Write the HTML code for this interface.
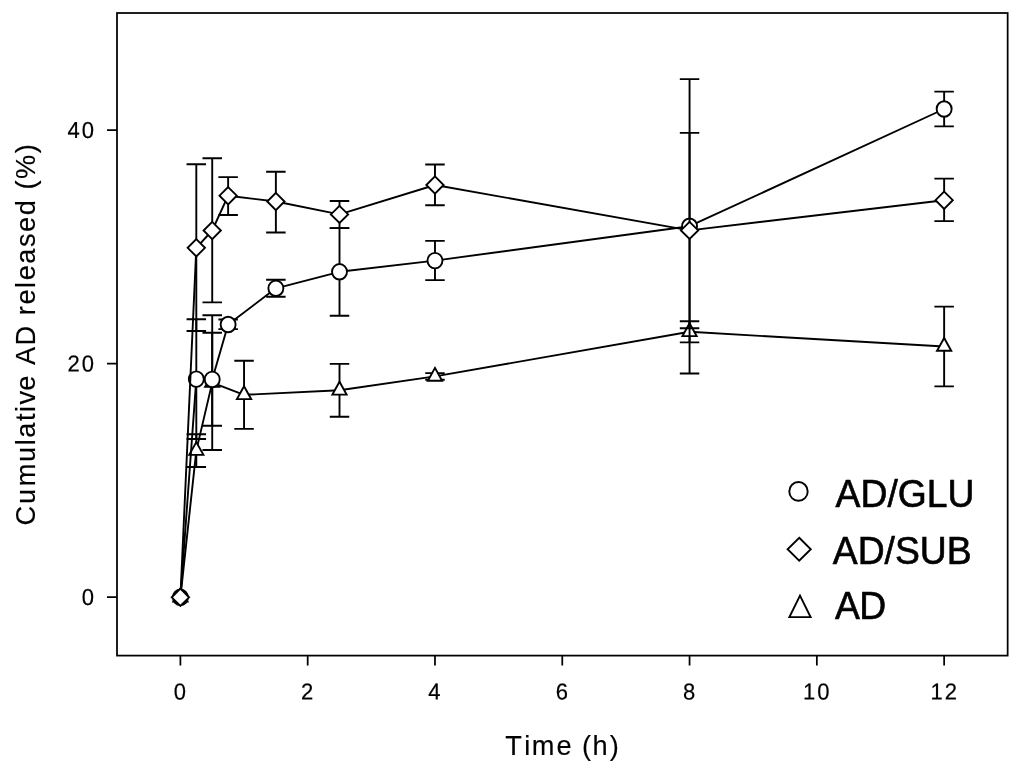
<!DOCTYPE html>
<html lang="en"><head><meta charset="utf-8"><title>Cumulative AD released</title>
<style>
html,body{margin:0;padding:0;background:#fff;}
body{width:1024px;height:776px;overflow:hidden;}
svg{display:block;}
text{font-family:"Liberation Sans",Arial,sans-serif;fill:#000;}
.tk text{font-size:22px;letter-spacing:2px;stroke:#000;stroke-width:0.2px;}
.ax{font-size:27.2px;stroke:#000;stroke-width:0.15px;}
.lg text{font-size:37.3px;stroke:#000;stroke-width:0.6px;}
.fr{fill:none;stroke:#000;stroke-width:1.75;}
.ln{fill:none;stroke:#000;stroke-width:1.9;stroke-linejoin:round;}
.eb{fill:none;stroke:#000;stroke-width:1.9;}
.mk *{fill:#fff;stroke:#000;stroke-width:1.9;stroke-linejoin:miter;}
</style></head><body>
<svg width="1024" height="776" viewBox="0 0 1024 776">
<rect width="1024" height="776" fill="#fff"/>
<rect class="fr" x="117" y="13" width="890.65" height="642.60"/>
<path class="fr" d="M180.4 655.6v10M307.69 655.6v10M434.98 655.6v10M562.27 655.6v10M689.56 655.6v10M816.85 655.6v10M944.14 655.6v10M117 597h-10M117 363.5h-10M117 130h-10"/>
<g class="tk"><text transform="translate(180.90 699.4) rotate(0.05) scale(1 1.05)" text-anchor="middle">0</text><text transform="translate(308.19 699.4) rotate(0.05) scale(1 1.05)" text-anchor="middle">2</text><text transform="translate(435.48 699.4) rotate(0.05) scale(1 1.05)" text-anchor="middle">4</text><text transform="translate(562.77 699.4) rotate(0.05) scale(1 1.05)" text-anchor="middle">6</text><text transform="translate(690.06 699.4) rotate(0.05) scale(1 1.05)" text-anchor="middle">8</text><text transform="translate(817.35 699.4) rotate(0.05) scale(1 1.05)" text-anchor="middle">10</text><text transform="translate(944.64 699.4) rotate(0.05) scale(1 1.05)" text-anchor="middle">12</text><text transform="translate(95.9 605.0) rotate(0.05) scale(1 1.05)" text-anchor="end">0</text><text transform="translate(95.9 371.5) rotate(0.05) scale(1 1.05)" text-anchor="end">20</text><text transform="translate(95.9 138.0) rotate(0.05) scale(1 1.05)" text-anchor="end">40</text></g>
<text class="ax" x="505.2" y="754.8" dx="0 1.5 -0.5 0.3 0 -1 -0.5 0.3" style="letter-spacing:1.9px">Time (h)</text>
<text class="ax" transform="translate(34.8 525.5) rotate(-90)" dx="0 0.3 1.2 0 0 0 0 0 0 -1.5 1.5" style="letter-spacing:1.53px">Cumulative AD released (%)</text>
<path class="ln" d="M180.4 597.3L196.31 450.6L212.22 382.6L244.05 394.8L339.51 390.3L434.98 376.4L689.56 331.8L944.14 346.5"/>
<path class="eb" d="M196.31 434.3V467.0M186.56 434.3H206.06M186.56 467.0H206.06M212.22 315.2V450.0M202.47 315.2H221.97M202.47 450.0H221.97M244.05 360.8V428.9M234.30 360.8H253.80M234.30 428.9H253.80M339.51 363.9V416.7M329.76 363.9H349.26M329.76 416.7H349.26M434.98 373.1V379.8M425.23 373.1H444.73M425.23 379.8H444.73M689.56 321.3V342.4M679.81 321.3H699.31M679.81 342.4H699.31M944.14 306.6V386.4M934.39 306.6H953.89M934.39 386.4H953.89"/>
<g class="mk"><path d="M180.4 588.80L187.50 601.60L173.30 601.60Z"/><path d="M196.31 442.10L203.41 454.90L189.21 454.90Z"/><path d="M212.22 374.10L219.32 386.90L205.12 386.90Z"/><path d="M244.05 386.30L251.15 399.10L236.95 399.10Z"/><path d="M339.51 381.80L346.61 394.60L332.41 394.60Z"/><path d="M434.98 367.90L442.08 380.70L427.88 380.70Z"/><path d="M689.56 323.30L696.66 336.10L682.46 336.10Z"/><path d="M944.14 338.00L951.24 350.80L937.04 350.80Z"/></g>
<path class="ln" d="M180.4 597.3L196.31 379.1L212.22 379.4L228.13 324.5L275.87 288.3L339.51 271.8L434.98 260.6L689.56 226.2L944.14 109.0"/>
<path class="eb" d="M196.31 319.2V439.0M186.56 319.2H206.06M186.56 439.0H206.06M212.22 332.7V425.8M202.47 332.7H221.97M202.47 425.8H221.97M228.13 319.5V329.1M218.38 319.5H237.88M218.38 329.1H237.88M275.87 279.8V296.8M266.12 279.8H285.62M266.12 296.8H285.62M339.51 228.1V315.8M329.76 228.1H349.26M329.76 315.8H349.26M434.98 240.9V280.1M425.23 240.9H444.73M425.23 280.1H444.73M689.56 79.1V373.5M679.81 79.1H699.31M679.81 373.5H699.31M944.14 91.6V126.4M934.39 91.6H953.89M934.39 126.4H953.89"/>
<g class="mk"><ellipse cx="180.4" cy="597.3" rx="7.50" ry="7.75"/><ellipse cx="196.31" cy="379.1" rx="7.50" ry="7.75"/><ellipse cx="212.22" cy="379.4" rx="7.50" ry="7.75"/><ellipse cx="228.13" cy="324.5" rx="7.50" ry="7.75"/><ellipse cx="275.87" cy="288.3" rx="7.50" ry="7.75"/><ellipse cx="339.51" cy="271.8" rx="7.50" ry="7.75"/><ellipse cx="434.98" cy="260.6" rx="7.50" ry="7.75"/><ellipse cx="689.56" cy="226.2" rx="7.50" ry="7.75"/><ellipse cx="944.14" cy="109.0" rx="7.50" ry="7.75"/></g>
<path class="ln" d="M180.4 597.3L196.31 247.8L212.22 230.5L228.13 195.7L275.87 201.5L339.51 214.4L434.98 185.0L689.56 230.4L944.14 200.2"/>
<path class="eb" d="M196.31 164.3V331.0M186.56 164.3H206.06M186.56 331.0H206.06M212.22 158.2V302.4M202.47 158.2H221.97M202.47 302.4H221.97M228.13 177.1V215.0M218.38 177.1H237.88M218.38 215.0H237.88M275.87 171.7V232.5M266.12 171.7H285.62M266.12 232.5H285.62M339.51 201.0V228.1M329.76 201.0H349.26M329.76 228.1H349.26M434.98 164.5V205.3M425.23 164.5H444.73M425.23 205.3H444.73M689.56 132.9V328.2M679.81 132.9H699.31M679.81 328.2H699.31M944.14 178.6V221.1M934.39 178.6H953.89M934.39 221.1H953.89"/>
<g class="mk"><path d="M180.4 588.70L189.05 597.3L180.4 605.90L171.75 597.3Z"/><path d="M196.31 239.20L204.96 247.8L196.31 256.40L187.66 247.8Z"/><path d="M212.22 221.90L220.87 230.5L212.22 239.10L203.57 230.5Z"/><path d="M228.13 187.10L236.78 195.7L228.13 204.30L219.48 195.7Z"/><path d="M275.87 192.90L284.52 201.5L275.87 210.10L267.22 201.5Z"/><path d="M339.51 205.80L348.16 214.4L339.51 223.00L330.86 214.4Z"/><path d="M434.98 176.40L443.63 185.0L434.98 193.60L426.33 185.0Z"/><path d="M689.56 221.80L698.21 230.4L689.56 239.00L680.91 230.4Z"/><path d="M944.14 191.60L952.79 200.2L944.14 208.80L935.49 200.2Z"/></g>
<g class="lg">
<g class="mk"><ellipse cx="798.5" cy="491.4" rx="9.2" ry="9.4"/><path d="M799.2 537.8L810.8 549.2L799.2 560.6L787.6 549.2Z"/><path d="M800 595.6L810.6 617.1L789.4 617.1Z"/></g>
<text transform="translate(835.6 507) scale(1 1.04)">AD/GLU</text>
<text transform="translate(832.8 563.7) scale(1 1.04)">AD/SUB</text>
<text transform="translate(835 618.8) scale(1 1.04)" style="letter-spacing:-0.6px">AD</text>
</g>
</svg>
</body></html>
